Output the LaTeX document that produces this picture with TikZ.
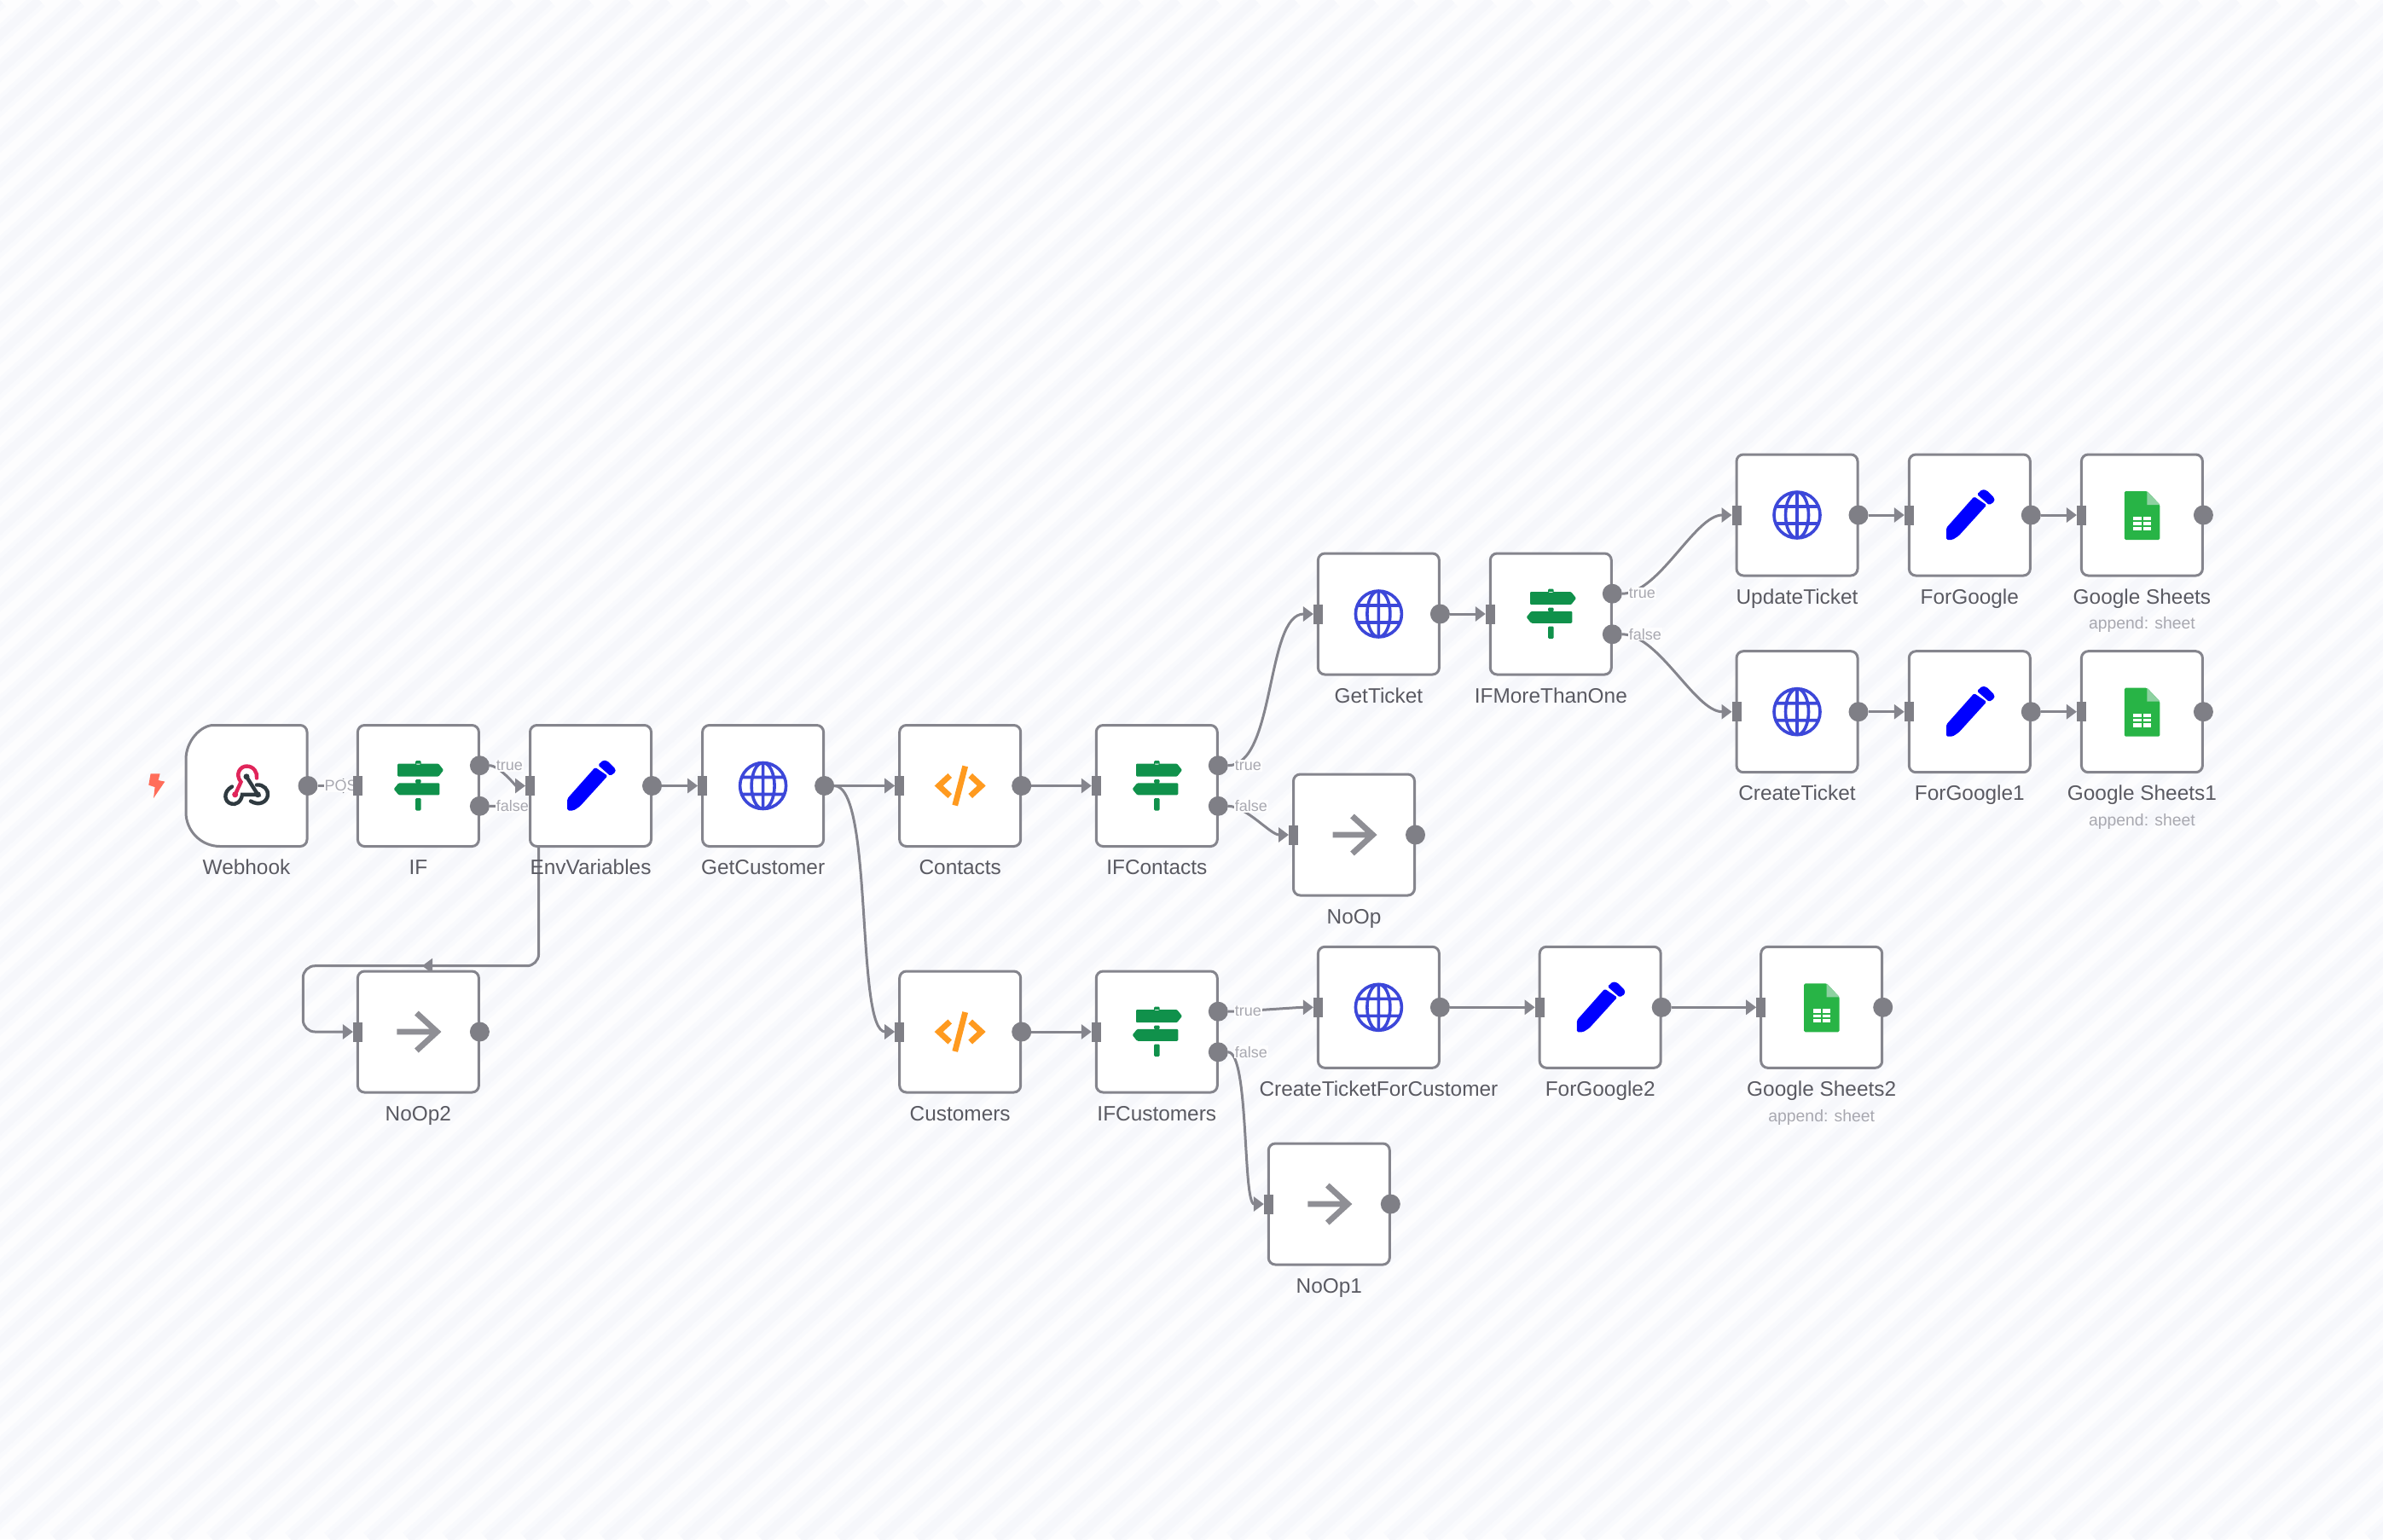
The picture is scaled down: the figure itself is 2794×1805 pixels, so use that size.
\documentclass[tikz,border=0pt]{standalone}
\usepackage{fontspec}
\setmainfont{Liberation Sans}
\usetikzlibrary{positioning,backgrounds,arrows.meta}

\definecolor{edgegrey}{HTML}{85858D}
\definecolor{portgrey}{HTML}{7F7F86}
\definecolor{textgrey}{HTML}{5A5A62}
\definecolor{softgrey}{HTML}{A8A8B0}
\definecolor{stripesoft}{HTML}{F9FAFD}
\definecolor{stripegrey}{HTML}{F6F7FB}
\definecolor{paper}{HTML}{FDFDFE}
\definecolor{signgreen}{HTML}{10914B}
\definecolor{globeblue}{HTML}{3C47D9}
\definecolor{codeorange}{HTML}{FF9A1F}
\definecolor{arrowgrey}{HTML}{8F8F95}
\definecolor{sheetgreen}{HTML}{28B446}
\definecolor{sheetfold}{HTML}{8ED1A1}
\definecolor{hookdark}{HTML}{2F3A40}
\definecolor{hookpink}{HTML}{E0255A}
\definecolor{boltred}{HTML}{FF6D5A}

% icons, drawn in pixels of the canvas around the centre of a card
\tikzset{
    signpost/.pic={
        \fill[signgreen, rounded corners=0.6pt]
            (-24.3,-26) -- (23.7,-26) -- (29.7,-18.4) -- (23.7,-10.8) -- (-24.3,-10.8) -- cycle
            (25,-3.2) -- (-23,-3.2) -- (-28.7,3.8) -- (-23,10.8) -- (25,10.8) -- cycle
            (-3.2,-29.5) rectangle (3.2,-25)
            (-3.2,-7.5) rectangle (3.2,-3)
            (-3.2,14.5) rectangle (3.2,29);
    },
    pencil/.pic={
        \fill[blue, rounded corners=0.8pt]
            (-27.3,29) -- (-27.3,15) -- (5.3,-21.7) -- (20,-11.7) -- (-12.7,24.3) -- (-20,29) -- cycle
            (8.6,-24.3) -- (14.7,-30) -- (20,-29) -- (29,-20) -- (29,-15.7) -- (22.9,-11.7) -- cycle;
    },
    globe/.pic={
        \draw[line width=1.8pt, globeblue]
            (0,0) circle[radius=27]
            (0,0) ellipse[x radius=13.5, y radius=27]
            (0,-27) -- (0,27)
            (-25,-10) -- (25,-10)
            (-25,10) -- (25,10);
    },
    codemark/.pic={
        \draw[line width=3.4pt, codeorange]
            (-12,-12) -- (-25,0) -- (-12,12)
            (12,-12) -- (25,0) -- (12,12)
            (6,-23) -- (-6,23);
    },
    passarrow/.pic={
        \draw[line width=3.4pt, arrowgrey]
            (-25,0) -- (21,0)
            (-2,-22) -- (22,0) -- (-2,22);
    },
    sheet/.pic={
        \fill[sheetgreen, rounded corners=0.8pt]
            (-20.6,-28) -- (6,-28) -- (21,-12) -- (21,29) -- (-20.6,29) -- cycle;
        \fill[sheetfold] (6,-28) -- (21,-12) -- (6,-12) -- cycle;
        \fill[white] (-10,2) rectangle (10.5,18);
        \draw[line width=0.9pt, sheetgreen]
            (-10,7.3) -- (10.5,7.3) (-10,12.6) -- (10.5,12.6) (0.2,2) -- (0.2,18);
    },
    hookmark/.pic={
        \draw[line width=2.2pt, hookdark, line cap=round]
            (0,-10.7) -- (13.3,10.3) -- (-5,10.3)
            .. controls (-6,19) and (-13,23) .. (-18,21)
            .. controls (-26,19) and (-28,7) .. (-17,1)
            (12,-1) .. controls (20,-2) and (26,5) .. (25,11)
            .. controls (24,19) and (15,24) .. (5,18);
        \draw[line width=2.2pt, hookpink, line cap=round]
            (-13.3,10.3) -- (-6.5,-4.5)
            .. controls (-14,-14) and (-7,-23) .. (0,-23)
            .. controls (9,-23) and (13,-15) .. (12,-9);
        \fill[hookdark] (0,-10.7) circle[radius=3.5] (13.3,10.3) circle[radius=3.5];
        \fill[hookpink] (-13.3,10.3) circle[radius=3.5];
    },
    bolt/.pic={
        \fill[boltred]
            (-6.7,-14) -- (4.3,-14) -- (2.3,-6.3) -- (10,-4.7) -- (-3.3,14.7) -- (-1.7,1.8) -- (-9,-0.7) -- cycle;
    }
}

% a card: name, x, y, text, icon
\newcommand{\flowcard}[5]{
    \node[card] (#1) at (#2,#3) {};
    \node[inport] (#1-in) at (#1.west) {};
    \node[outport] (#1-out) at ([xshift=0.5pt]#1.east) {};
    \node[cardtext] (#1-text) at ([yshift=-16.5pt]#1.south) {#4};
    \pic at (#1) {#5};
}
% a card with two exits: name, x, y, text
\newcommand{\ifcard}[4]{
    \node[card] (#1) at (#2,#3) {};
    \node[inport] (#1-in) at (#1.west) {};
    \node[outport] (#1-t) at ([xshift=0.5pt,yshift=11.9pt]#1.east) {};
    \node[outport] (#1-f) at ([xshift=0.5pt,yshift=-11.9pt]#1.east) {};
    \node[edgetext, right=3.5pt of #1-t] (#1-tl) {true};
    \node[edgetext, right=3.5pt of #1-f] (#1-fl) {false};
    \node[cardtext] (#1-text) at ([yshift=-16.5pt]#1.south) {#4};
    \pic at (#1) {signpost};
}

\begin{document}
\begin{tikzpicture}[
     x=0.5pt,
     y=-0.5pt,
     % define styles
     card/.style={
         draw=edgegrey,
         fill=white,
         line width=1.5pt,
         rounded corners=4pt,
         minimum size=71pt,
         inner sep=0pt,
         outer sep=0pt
     },
     inport/.style={
         fill=portgrey,
         minimum width=5.5pt,
         minimum height=11.5pt,
         inner sep=0pt,
         outer sep=0pt
     },
     outport/.style={
         circle,
         fill=portgrey,
         minimum size=11.5pt,
         inner sep=0pt,
         outer sep=0pt
     },
     cardtext/.style={
         anchor=base,
         text=textgrey,
         font=\fontsize{12.2pt}{14pt}\selectfont,
         inner sep=0pt
     },
     subtext/.style={
         anchor=base,
         text=softgrey,
         font=\fontsize{9.7pt}{12pt}\selectfont,
         inner sep=0pt
     },
     edgetext/.style={
         fill=paper,
         text=softgrey,
         font=\fontsize{9pt}{11pt}\selectfont,
         inner sep=0.5pt,
         outer sep=0pt
     },
     flowedge/.style={
         draw=edgegrey,
         line width=1.5pt
     },
     stripe/.style={
         draw=stripesoft,
         line width=10pt
     },
     stripecore/.style={
         draw=stripegrey,
         line width=5pt
     },
     >={Triangle[length=6pt,width=8.5pt]}
]
\useasboundingbox (0,0) rectangle (2794,1805);

% first row
\node[minimum size=71pt, inner sep=0pt, outer sep=0pt] (webhook) at (289,921.5) {};
\draw[draw=edgegrey, fill=white, line width=1.5pt]
    ([xshift=20pt]webhook.north west) arc[start angle=90, end angle=180, radius=20pt]
    -- ([yshift=20pt]webhook.south west) arc[start angle=180, end angle=270, radius=20pt]
    [rounded corners=4pt] -- (webhook.south east) -- (webhook.north east) -- cycle;
\node[outport] (webhook-out) at ([xshift=0.5pt]webhook.east) {};
\node[cardtext] (webhook-text) at ([yshift=-16.5pt]webhook.south) {Webhook};
\pic at (webhook) {hookmark};
\pic at (183.3,921.3) {bolt};
\node[edgetext, right=3.5pt of webhook-out] (webhook-l) {POST};

\ifcard{ifstart}{490.4}{921.5}{IF}
\flowcard{envvars}{692.5}{921.5}{EnvVariables}{pencil}
\flowcard{getcustomer}{894.6}{921.5}{GetCustomer}{globe}
\flowcard{contacts}{1125.7}{921.5}{Contacts}{codemark}
\ifcard{ifcontacts}{1356.3}{921.5}{IFContacts}
\flowcard{noop}{1587.5}{979}{NoOp}{passarrow}

% ticket branch
\flowcard{getticket}{1616.4}{720}{GetTicket}{globe}
\ifcard{ifmore}{1818.3}{720}{IFMoreThanOne}
\flowcard{updateticket}{2107}{604}{UpdateTicket}{globe}
\flowcard{forgoogle}{2309.3}{604}{ForGoogle}{pencil}
\flowcard{sheets}{2511.4}{604}{Google Sheets}{sheet}
\node[subtext] (sheets-sub) at ([yshift=-31.4pt]sheets.south) {append: sheet};
\flowcard{createticket}{2107}{834.7}{CreateTicket}{globe}
\flowcard{forgoogleone}{2309.3}{834.7}{ForGoogle1}{pencil}
\flowcard{sheetsone}{2511.4}{834.7}{Google Sheets1}{sheet}
\node[subtext] (sheetsone-sub) at ([yshift=-31.4pt]sheetsone.south) {append: sheet};

% customer branch
\flowcard{nooptwo}{490.4}{1210}{NoOp2}{passarrow}
\flowcard{customers}{1125.7}{1210}{Customers}{codemark}
\ifcard{ifcustomers}{1356.3}{1210}{IFCustomers}
\flowcard{createforcustomer}{1616.4}{1181.3}{CreateTicketForCustomer}{globe}
\flowcard{forgoogletwo}{1876.2}{1181.3}{ForGoogle2}{pencil}
\flowcard{sheetstwo}{2135.7}{1181.3}{Google Sheets2}{sheet}
\node[subtext] (sheetstwo-sub) at ([yshift=-31.4pt]sheetstwo.south) {append: sheet};
\flowcard{noopone}{1558.3}{1412}{NoOp1}{passarrow}

% stripes of the canvas
\begin{scope}[on background layer]
\fill[paper] (0,0) rectangle (2794,1805);
\clip (0,0) rectangle (2794,1805);
\foreach \s in {-2005,-1959,...,2794} {
    \draw[stripe] (\s,1805) -- ({\s+2005},0);
    \draw[stripecore] (\s,1805) -- ({\s+2005},0);
}
\end{scope}

% connectors
\coordinate (turnright) at (631.6,1132.7);
\coordinate (turnleft) at (355.3,1132.7);
\coordinate (turnstart) at (560,1132.7);
\coordinate (turnmid) at (495,1132.7);
\begin{scope}[on background layer]
\draw[flowedge,->] (webhook-out) -- (ifstart-in);
\draw[flowedge,->] (ifstart-t) to[out=0,in=180,looseness=0.6] (envvars-in.west);
\draw[flowedge,->, rounded corners=7pt] (ifstart-f) -| (turnright) -- (turnleft) |- (nooptwo-in.west);
\draw[flowedge,->] (turnstart) -- (turnmid);
\draw[flowedge,->] (envvars-out) -- (getcustomer-in.west);
\draw[flowedge,->] (getcustomer-out) -- (contacts-in.west);
\draw[flowedge,->] (getcustomer-out) to[out=0,in=180,looseness=0.4] (customers-in.west);
\draw[flowedge,->] (contacts-out) -- (ifcontacts-in.west);
\draw[flowedge,->] (ifcontacts-t) to[out=0,in=180,looseness=0.7] (getticket-in.west);
\draw[flowedge,->] (ifcontacts-f) to[out=0,in=180,looseness=0.7] (noop-in.west);
\draw[flowedge,->] (getticket-out) -- (ifmore-in.west);
\draw[flowedge,->] (ifmore-t) to[out=0,in=180,looseness=0.7] (updateticket-in.west);
\draw[flowedge,->] (ifmore-f) to[out=0,in=180,looseness=0.7] (createticket-in.west);
\draw[flowedge,->] (updateticket-out) -- (forgoogle-in.west);
\draw[flowedge,->] (forgoogle-out) -- (sheets-in.west);
\draw[flowedge,->] (createticket-out) -- (forgoogleone-in.west);
\draw[flowedge,->] (forgoogleone-out) -- (sheetsone-in.west);
\draw[flowedge,->] (customers-out) -- (ifcustomers-in.west);
\draw[flowedge,->] (ifcustomers-t) to[out=0,in=180,looseness=0.5] (createforcustomer-in.west);
\draw[flowedge,->] (ifcustomers-f) to[out=0,in=180,looseness=0.35] (noopone-in.west);
\draw[flowedge,->] (createforcustomer-out) -- (forgoogletwo-in.west);
\draw[flowedge,->] (forgoogletwo-out) -- (sheetstwo-in.west);
\end{scope}
\end{tikzpicture}
\end{document}
